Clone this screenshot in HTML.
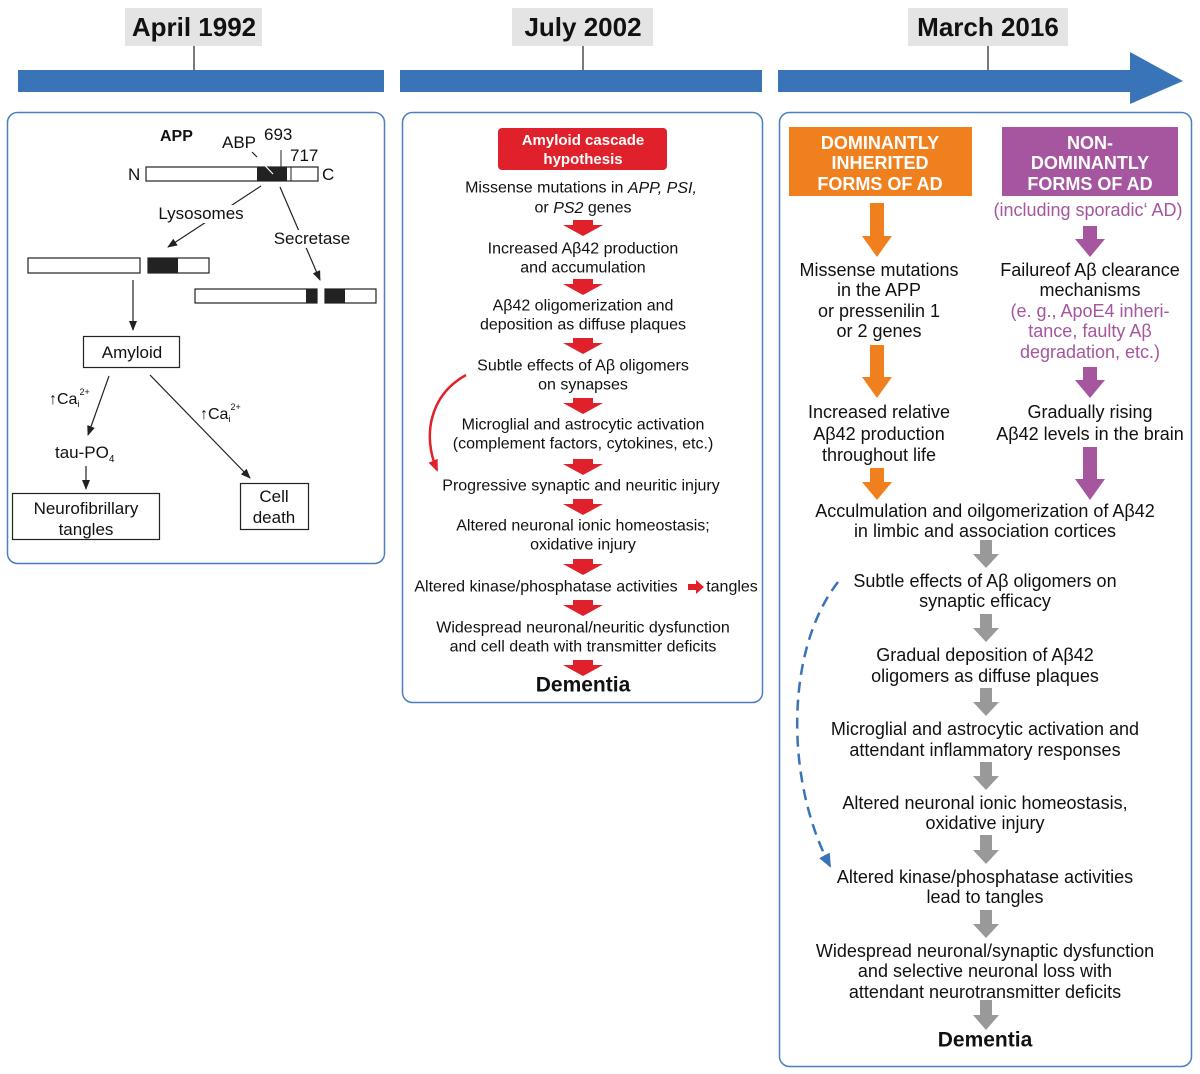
<!DOCTYPE html>
<html><head><meta charset="utf-8"><style>
html,body{margin:0;padding:0;background:#fff}
svg{display:block}
text{font-family:"Liberation Sans",sans-serif;fill:#111}
.m text{font-size:16px}
.r text{font-size:18px}
.m text.dem,.r text.dem{font-size:21px;font-weight:bold}
</style></head><body>
<svg width="1200" height="1074" viewBox="0 0 1200 1074" xmlns="http://www.w3.org/2000/svg">
<defs>
<marker id="ah" markerWidth="10" markerHeight="8" refX="9" refY="4" orient="auto" markerUnits="userSpaceOnUse"><path d="M0,0 L10,4 L0,8 Z" fill="#222"/></marker>
<marker id="ahr" markerWidth="12" markerHeight="10" refX="10" refY="5" orient="auto" markerUnits="userSpaceOnUse"><path d="M0,0 L12,5 L0,10 Z" fill="#e0202a"/></marker>
<marker id="ahb" markerWidth="14" markerHeight="12" refX="12" refY="6" orient="auto" markerUnits="userSpaceOnUse"><path d="M0,0 L14,6 L0,12 Z" fill="#3a74b8"/></marker>
</defs>

<!-- Timeline -->
<rect x="125" y="8" width="137" height="38" fill="#e4e4e4"/>
<text x="194" y="36" text-anchor="middle" font-size="26" font-weight="bold">April 1992</text>
<rect x="512" y="8" width="141" height="38" fill="#e4e4e4"/>
<text x="583" y="36" text-anchor="middle" font-size="26" font-weight="bold">July 2002</text>
<rect x="908" y="8" width="160" height="38" fill="#e4e4e4"/>
<text x="988" y="36" text-anchor="middle" font-size="26" font-weight="bold">March 2016</text>
<line x1="194" y1="46" x2="194" y2="70" stroke="#222" stroke-width="1.2"/>
<line x1="583" y1="46" x2="583" y2="70" stroke="#222" stroke-width="1.2"/>
<line x1="988" y1="46" x2="988" y2="70" stroke="#222" stroke-width="1.2"/>
<rect x="18" y="70" width="366" height="22" fill="#3a74b8"/>
<rect x="400" y="70" width="362" height="22" fill="#3a74b8"/>
<polygon points="778,70 1130,70 1130,52 1183,81 1130,104 1130,92 778,92" fill="#3a74b8"/>

<!-- Panels -->
<rect x="7.5" y="112.5" width="377" height="451" rx="10" fill="none" stroke="#4a7fc0" stroke-width="1.5"/>
<rect x="402.5" y="112.5" width="360" height="590" rx="10" fill="none" stroke="#4a7fc0" stroke-width="1.5"/>
<rect x="779.5" y="112.5" width="412" height="954" rx="10" fill="none" stroke="#4a7fc0" stroke-width="1.5"/>

<!-- Left panel -->
<g font-size="17">
<text x="160" y="141" font-weight="bold" font-size="16">APP</text>
<text x="222" y="148">ABP</text>
<text x="264" y="140">693</text>
<text x="290" y="161">717</text>
<text x="128" y="180">N</text>
<text x="322" y="180">C</text>
</g>
<rect x="146" y="167" width="172" height="14" fill="#fff" stroke="#222" stroke-width="1.2"/>
<rect x="257" y="167" width="30" height="14" fill="#222"/>
<line x1="291" y1="167" x2="291" y2="181" stroke="#222"/>
<line x1="281" y1="150" x2="281" y2="167" stroke="#222"/>
<line x1="252" y1="152" x2="273" y2="174" stroke="#fff" stroke-width="1.2"/>
<line x1="252" y1="152" x2="257" y2="157" stroke="#222" stroke-width="1.2"/>
<line x1="261" y1="186" x2="168" y2="247" stroke="#222" stroke-width="1.2" marker-end="url(#ah)"/>
<rect x="156" y="205" width="90" height="18" fill="#fff"/>
<text x="201" y="219" text-anchor="middle" font-size="17">Lysosomes</text>
<line x1="280" y1="187" x2="320" y2="280" stroke="#222" stroke-width="1.2" marker-end="url(#ah)"/>
<rect x="272" y="230" width="82" height="18" fill="#fff"/>
<text x="312" y="244" text-anchor="middle" font-size="17">Secretase</text>
<rect x="28" y="258" width="112" height="15" fill="#fff" stroke="#222" stroke-width="1.2"/>
<rect x="148" y="258" width="61" height="15" fill="#fff" stroke="#222" stroke-width="1.2"/>
<rect x="148" y="258" width="30" height="15" fill="#222"/>
<rect x="195" y="289" width="122" height="14" fill="#fff" stroke="#222" stroke-width="1.2"/>
<rect x="306" y="289" width="11" height="14" fill="#222"/>
<rect x="325" y="289" width="51" height="14" fill="#fff" stroke="#222" stroke-width="1.2"/>
<rect x="325" y="289" width="20" height="14" fill="#222"/>
<line x1="133" y1="280" x2="133" y2="330" stroke="#222" stroke-width="1.2" marker-end="url(#ah)"/>
<rect x="83.5" y="336.5" width="96" height="31" fill="#fff" stroke="#222" stroke-width="1.2"/>
<text x="132" y="358" text-anchor="middle" font-size="17">Amyloid</text>
<line x1="109" y1="376" x2="88" y2="435" stroke="#222" stroke-width="1.2" marker-end="url(#ah)"/>
<text x="49" y="404" font-size="16"><tspan font-weight="bold">↑</tspan>Ca<tspan font-size="9" dy="3">i</tspan><tspan font-size="9" dy="-12">2+</tspan></text>
<line x1="150" y1="375" x2="250" y2="478" stroke="#222" stroke-width="1.2" marker-end="url(#ah)"/>
<text x="200" y="419" font-size="16"><tspan font-weight="bold">↑</tspan>Ca<tspan font-size="9" dy="3">i</tspan><tspan font-size="9" dy="-12">2+</tspan></text>
<text x="55" y="458" font-size="17">tau-PO<tspan font-size="10" dy="4">4</tspan></text>
<line x1="86" y1="466" x2="86" y2="489" stroke="#222" stroke-width="1.2" marker-end="url(#ah)"/>
<rect x="12.5" y="493.5" width="147" height="46" fill="#fff" stroke="#222" stroke-width="1.2"/>
<text x="86" y="514" text-anchor="middle" font-size="17">Neurofibrillary</text>
<text x="86" y="535" text-anchor="middle" font-size="17">tangles</text>
<rect x="240.5" y="483.5" width="68" height="46" fill="#fff" stroke="#222" stroke-width="1.2"/>
<text x="274" y="502" text-anchor="middle" font-size="17">Cell</text>
<text x="274" y="523" text-anchor="middle" font-size="17">death</text>

<!-- Middle panel -->
<rect x="498" y="128" width="169" height="42" rx="4" fill="#e0202a"/>
<text x="583" y="145" text-anchor="middle" font-size="15" font-weight="bold" style="fill:#fff">Amyloid cascade</text>
<text x="583" y="164" text-anchor="middle" font-size="15" font-weight="bold" style="fill:#fff">hypothesis</text>
<g class="m" text-anchor="middle" dominant-baseline="central">
<text x="581" y="188">Missense mutations in <tspan font-style="italic">APP, PSI,</tspan></text>
<text x="583" y="208">or <tspan font-style="italic">PS2</tspan> genes</text>
<text x="583" y="249">Increased Aβ42 production</text>
<text x="583" y="268">and accumulation</text>
<text x="583" y="306">Aβ42 oligomerization and</text>
<text x="583" y="325">deposition as diffuse plaques</text>
<text x="583" y="366">Subtle effects of Aβ oligomers</text>
<text x="583" y="385">on synapses</text>
<text x="583" y="425">Microglial and astrocytic activation</text>
<text x="583" y="444">(complement factors, cytokines, etc.)</text>
<text x="581" y="486">Progressive synaptic and neuritic injury</text>
<text x="583" y="526">Altered neuronal ionic homeostasis;</text>
<text x="583" y="545">oxidative injury</text>
<text x="546" y="587">Altered kinase/phosphatase activities</text>
<text x="732" y="587">tangles</text>
<text x="583" y="628">Widespread neuronal/neuritic dysfunction</text>
<text x="583" y="647">and cell death with transmitter deficits</text>
<text class="dem" x="583" y="685">Dementia</text>
</g>
<g fill="#e0202a">
<polygon points="573,220 593,220 593,225 603,225 583,236 563,225 573,225"/>
<polygon points="573,279 593,279 593,284 603,284 583,295 563,284 573,284"/>
<polygon points="573,338 593,338 593,343 603,343 583,354 563,343 573,343"/>
<polygon points="573,398 593,398 593,403 603,403 583,414 563,403 573,403"/>
<polygon points="573,459 593,459 593,464 603,464 583,475 563,464 573,464"/>
<polygon points="573,499 593,499 593,504 603,504 583,515 563,504 573,504"/>
<polygon points="573,559 593,559 593,564 603,564 583,575 563,564 573,564"/>
<polygon points="573,600 593,600 593,605 603,605 583,616 563,605 573,605"/>
<polygon points="573,660 593,660 593,665 603,665 583,676 563,665 573,665"/>
<polygon points="688,584 696,584 696,580 704,587 696,594 696,590 688,590"/>
</g>
<path d="M466,375 C430,395 422,435 437,470" fill="none" stroke="#e0202a" stroke-width="2.5" marker-end="url(#ahr)"/>

<!-- Right panel -->
<rect x="789" y="127" width="183" height="69" fill="#f0801e"/>
<g font-size="18" font-weight="bold" text-anchor="middle">
<text x="880" y="149" style="fill:#fff">DOMINANTLY</text>
<text x="880" y="169" style="fill:#fff">INHERITED</text>
<text x="880" y="190" style="fill:#fff">FORMS OF AD</text>
</g>
<rect x="1002" y="127" width="176" height="69" fill="#a5569e"/>
<g font-size="18" font-weight="bold" text-anchor="middle">
<text x="1090" y="149" style="fill:#fff">NON-</text>
<text x="1090" y="169" style="fill:#fff">DOMINANTLY</text>
<text x="1090" y="190" style="fill:#fff">FORMS OF AD</text>
</g>
<g class="r" text-anchor="middle" dominant-baseline="central">
<text x="1088" y="210" style="fill:#a5569e">(including sporadic‘ AD)</text>
<text x="879" y="270">Missense mutations</text>
<text x="879" y="290">in the APP</text>
<text x="879" y="311">or pressenilin 1</text>
<text x="879" y="331">or 2 genes</text>
<text x="879" y="412">Increased relative</text>
<text x="879" y="434">Aβ42 production</text>
<text x="879" y="455">throughout life</text>
<text x="1090" y="270">Failureof Aβ clearance</text>
<text x="1090" y="290">mechanisms</text>
<text x="1090" y="311" style="fill:#a5569e">(e. g., ApoE4 inheri-</text>
<text x="1090" y="331" style="fill:#a5569e">tance, faulty Aβ</text>
<text x="1090" y="352" style="fill:#a5569e">degradation, etc.)</text>
<text x="1090" y="412">Gradually rising</text>
<text x="1090" y="434">Aβ42 levels in the brain</text>
<text x="985" y="511">Acculmulation and oilgomerization of Aβ42</text>
<text x="985" y="531">in limbic and association cortices</text>
<text x="985" y="581">Subtle effects of Aβ oligomers on</text>
<text x="985" y="601">synaptic efficacy</text>
<text x="985" y="655">Gradual deposition of Aβ42</text>
<text x="985" y="676">oligomers as diffuse plaques</text>
<text x="985" y="729">Microglial and astrocytic activation and</text>
<text x="985" y="750">attendant inflammatory responses</text>
<text x="985" y="803">Altered neuronal ionic homeostasis,</text>
<text x="985" y="823">oxidative injury</text>
<text x="985" y="877">Altered kinase/phosphatase activities</text>
<text x="985" y="897">lead to tangles</text>
<text x="985" y="951">Widespread neuronal/synaptic dysfunction</text>
<text x="985" y="971">and selective neuronal loss with</text>
<text x="985" y="992">attendant neurotransmitter deficits</text>
<text class="dem" x="985" y="1040">Dementia</text>
</g>
<g fill="#f0801e">
<polygon points="870,203 884,203 884,236 892,236 877,257 862,236 870,236"/>
<polygon points="870,345 884,345 884,377 892,377 877,398 862,377 870,377"/>
<polygon points="870,468 884,468 884,482 892,482 877,500 862,482 870,482"/>
</g>
<g fill="#a5569e">
<polygon points="1083,226 1097,226 1097,239 1105,239 1090,257 1075,239 1083,239"/>
<polygon points="1083,367 1097,367 1097,380 1105,380 1090,398 1075,380 1083,380"/>
<polygon points="1083,447 1097,447 1097,479 1105,479 1090,500 1075,479 1083,479"/>
</g>
<g fill="#999">
<polygon points="980,540 992,540 992,554 999,554 986,568 973,554 980,554"/>
<polygon points="980,614 992,614 992,628 999,628 986,642 973,628 980,628"/>
<polygon points="980,688 992,688 992,702 999,702 986,716 973,702 980,702"/>
<polygon points="980,762 992,762 992,776 999,776 986,790 973,776 980,776"/>
<polygon points="980,835 992,835 992,850 999,850 986,864 973,850 980,850"/>
<polygon points="980,910 992,910 992,924 999,924 986,938 973,924 980,924"/>
<polygon points="980,1000 992,1000 992,1015 999,1015 986,1030 973,1015 980,1015"/>
</g>
<path d="M838,582 C785,650 785,780 830,866" fill="none" stroke="#3a74b8" stroke-width="2.5" stroke-dasharray="11,7" marker-end="url(#ahb)"/>
</svg>
</body></html>
